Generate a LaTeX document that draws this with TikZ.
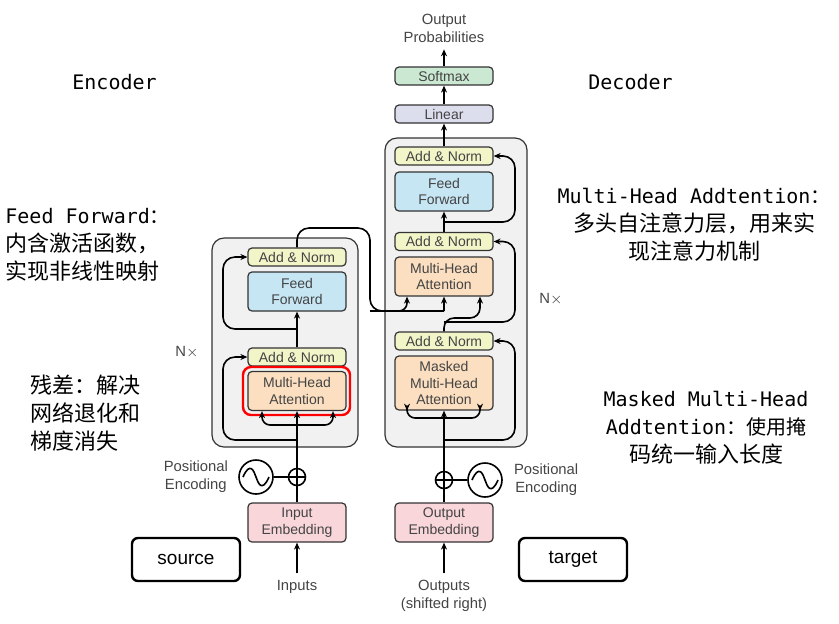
\documentclass[tikz,border=0pt]{standalone}
\usepackage{fontspec}
\setmainfont{Liberation Sans}
\newfontfamily\monofont{DejaVu Sans Mono}
\newfontfamily\cjk{Noto Sans CJK SC}
\usetikzlibrary{arrows.meta, positioning, calc}
\definecolor{normfill}{HTML}{F1F5C8}
\definecolor{fffill}{HTML}{C6E6F4}
\definecolor{attfill}{HTML}{FBDFC0}
\definecolor{embfill}{HTML}{F8D6DA}
\definecolor{smfill}{HTML}{CBE8D2}
\definecolor{linfill}{HTML}{DCDEEE}
\definecolor{stackfill}{HTML}{F1F1F1}
\definecolor{txtgrey}{HTML}{444444}

\begin{document}
\begin{tikzpicture}[
        x=0.5pt, y=-0.5pt,
        block/.style={rectangle, draw=black!80, semithick, rounded corners=2pt, minimum width=49pt, inner sep=0pt, align=center, font=\fontsize{7}{8.2}\selectfont, text=txtgrey},
        norm/.style={block, fill=normfill, minimum height=9pt},
        ff/.style={block, fill=fffill, minimum height=19.5pt},
        att/.style={block, fill=attfill, minimum height=19.5pt},
        emb/.style={block, fill=embfill, minimum height=19.5pt},
        stack/.style={draw=black!80, semithick, rounded corners=6pt, fill=stackfill},
        line/.style={draw, thick, -{Stealth[length=3.5pt,width=3pt]}},
        plain/.style={draw, thick},
        lbl/.style={font=\fontsize{7.4}{9}\selectfont, text=txtgrey, align=center},
        note/.style={font=\monofont\fontsize{10}{14}\selectfont, align=left, anchor=west, inner sep=0pt},
        tag/.style={draw, very thick, rounded corners=3pt, minimum width=54pt, minimum height=21.5pt, font=\fontsize{9.5}{11}\selectfont}
    ]
        \useasboundingbox (0,0) rectangle (839,623);

        % Stacks
        \draw [stack] (212,238) rectangle (358,447);
        \draw [stack] (385,138) rectangle (527,447);

        % Encoder blocks
        \node [norm] (enorm2) at (297,257) {Add \& Norm};
        \node [ff] (eff) at (297,291.5) {Feed\\Forward};
        \node [norm] (enorm1) at (297,357) {Add \& Norm};
        \node [att] (emha) at (297,391) {Multi-Head\\Attention};
        \draw [red, very thick, rounded corners=4pt] (243,367) rectangle (350,415);
        \node [emb] (inemb) at (297,522.5) {Input\\Embedding};

        % Decoder blocks
        \node [block, fill=smfill, minimum height=9pt] (softmax) at (444,76) {Softmax};
        \node [block, fill=linfill, minimum height=9pt] (linear) at (444,114) {Linear};
        \node [norm] (dnorm3) at (444,156) {Add \& Norm};
        \node [ff] (dff) at (444,191.5) {Feed\\Forward};
        \node [norm] (dnorm2) at (444,241.5) {Add \& Norm};
        \node [att] (dmha) at (444,276.5) {Multi-Head\\Attention};
        \node [norm] (dnorm1) at (444,341) {Add \& Norm};
        \node [att, minimum height=27pt] (dmmha) at (444,383) {Masked\\Multi-Head\\Attention};
        \node [emb] (outemb) at (444,522.5) {Output\\Embedding};

        % Positional encoding
        \node [circle, draw, thick, inner sep=0pt, minimum size=8.5pt] (eplus) at (297,477) {};
        \draw [thick] (eplus.north) -- (eplus.south) (eplus.west) -- (eplus.east);
        \node [circle, draw, thick, inner sep=0pt, minimum size=8.5pt] (dplus) at (444,480) {};
        \draw [thick] (dplus.north) -- (dplus.south) (dplus.west) -- (dplus.east);
        \node [circle, draw, thick, minimum size=17pt, inner sep=0pt] (esin) at (256,477) {};
        \node [circle, draw, thick, minimum size=17pt, inner sep=0pt] (dsin) at (485,480) {};
        \foreach \s in {esin, dsin}
            \draw [thick] ($(\s.center)+(-13,0)$) .. controls ($(\s.center)+(-6,-16)$) and ($(\s.center)+(-2,-6)$) .. (\s.center) .. controls ($(\s.center)+(2,6)$) and ($(\s.center)+(6,16)$) .. ($(\s.center)+(13,0)$);
        \draw [plain] (esin) -- (eplus);
        \draw [plain] (dsin) -- (dplus);
        \node [lbl, anchor=east] (epos) at (235,477) {Positional\\Encoding};
        \node [lbl, anchor=west] (dpos) at (507,480) {Positional\\Encoding};

        % Inputs / outputs
        \node [lbl] (inputs) at (297,587) {Inputs};
        \node [lbl] (outputs) at (444,596) {Outputs\\(shifted right)};
        \node [lbl] (outprob) at (444,28) {Output\\Probabilities};
        \node [lbl] (enx) at (187,352) {N$\times$};
        \node [lbl] (dnx) at (551,299) {N$\times$};
        \node [tag] (source) at (186,559.5) {source};
        \node [tag] (target) at (573,559.5) {target};

        % Encoder connections
        \draw [line] (inputs) -- (inemb);
        \draw [plain] (inemb) -- (eplus);
        \coordinate (eb1) at (297,425);
        \coordinate (eb2) at (297,440);
        \draw [line] (eplus) -- (emha.south);
        \draw [line, rounded corners=4pt] (eb1) -| ([xshift=-17.5pt]emha.south);
        \draw [line, rounded corners=4pt] (eb1) -| ([xshift=18pt]emha.south);
        \draw [line, rounded corners=6pt] (eb2) -| (223,357) -- (enorm1.west);
        \draw [line] (enorm1) -- (eff);
        \coordinate (eb3) at (297,329);
        \draw [line, rounded corners=6pt] (eb3) -| (223,257) -- (enorm2.west);
        \coordinate (ekv) at (370,311);
        \draw [plain, rounded corners=6pt] (enorm2.north) |- (370,228) -- (ekv) -- (444,311);
        \draw [line, rounded corners=4pt] (ekv) -| ([xshift=-18.5pt]dmha.south);
        \draw [line] (444,311) -- (dmha.south);

        % Decoder connections
        \draw [line] (outputs) -- (outemb);
        \draw [plain] (outemb) -- (dplus);
        \coordinate (db1) at (444,418);
        \coordinate (db2) at (444,440);
        \draw [line] (dplus) -- (dmmha.south);
        \draw [line, rounded corners=4pt] (db1) -| ([xshift=-18.5pt]dmmha.south);
        \draw [line, rounded corners=4pt] (db1) -| ([xshift=18pt]dmmha.south);
        \draw [line, rounded corners=6pt] (db2) -| (515,341) -- (dnorm1.east);
        \draw [line, rounded corners=5pt] (dnorm1.north) |- (480,318) -- ([xshift=18pt]dmha.south);
        \coordinate (db3) at (444,322);
        \draw [line, rounded corners=6pt] (db3) -| (515,241.5) -- (dnorm2.east);
        \draw [line] (dnorm2) -- (dff);
        \coordinate (db4) at (444,222);
        \draw [line, rounded corners=6pt] (db4) -| (515,156) -- (dnorm3.east);
        \draw [line] (dnorm3) -- (linear);
        \draw [line] (linear) -- (softmax);
        \draw [line] (softmax) -- (outprob);

        % Annotations
        \node [note] (enctitle) at (72,82) {Encoder};
        \node [note] (dectitle) at (588,82) {Decoder};
        \node [note] (ffnote) at (5,245) {Feed Forward{\cjk ：}\\{\cjk\fontsize{11}{14}\selectfont 内含激活函数，}\\{\cjk\fontsize{11}{14}\selectfont 实现非线性映射}};
        \node [note, font=\cjk\fontsize{11}{14}\selectfont] (resnote) at (30,413) {残差：解决\\网络退化和\\梯度消失};
        \node [note, align=center, anchor=center] (mhanote) at (694,225) {Multi-Head Addtention{\cjk ：}\\{\cjk\fontsize{11}{14}\selectfont 多头自注意力层，用来实}\\{\cjk\fontsize{11}{14}\selectfont 现注意力机制}};
        \node [note, align=center, anchor=center] (mmnote) at (706,428) {Masked Multi-Head\\Addtention{\cjk ：使用掩}\\{\cjk\fontsize{11}{14}\selectfont 码统一输入长度}};
    \end{tikzpicture}
\end{document}
